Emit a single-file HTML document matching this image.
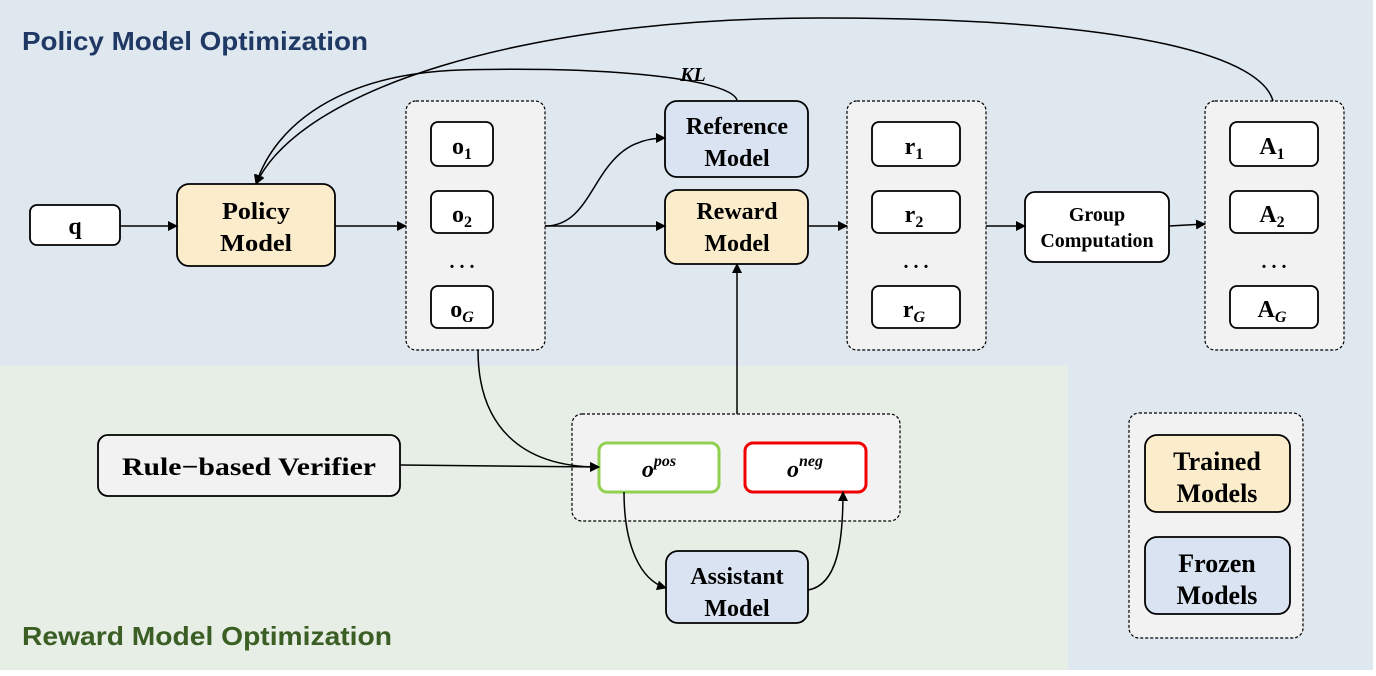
<!DOCTYPE html>
<html><head><meta charset="utf-8"><style>
html,body{margin:0;padding:0;background:#fff}
svg{display:block}
.t{font-family:"Liberation Serif",serif;font-weight:bold;fill:#000;text-anchor:middle}
</style></head><body>
<svg width="1376" height="676" viewBox="0 0 1376 676" xmlns="http://www.w3.org/2000/svg">
<defs>
<marker id="a" markerWidth="10" markerHeight="10" refX="9" refY="5" orient="auto" markerUnits="userSpaceOnUse"><path d="M0,0 L10,5 L0,10 z" fill="#000"/></marker>
</defs>
<rect x="0" y="0" width="1373" height="670" fill="#dfe7ef"/>
<rect x="0" y="366" width="1068" height="304" fill="#e6eee6"/>
<text x="22" y="50" font-family="Liberation Sans,sans-serif" font-weight="bold" font-size="26" fill="#1f3864" textLength="346" lengthAdjust="spacingAndGlyphs">Policy Model Optimization</text>
<text x="22" y="645" font-family="Liberation Sans,sans-serif" font-weight="bold" font-size="26" fill="#3b5e24" textLength="370" lengthAdjust="spacingAndGlyphs">Reward Model Optimization</text>

<g stroke="#000" stroke-width="1.2" stroke-dasharray="3,2" fill="#f2f2f2">
<rect x="406" y="101" width="139" height="249" rx="10"/>
<rect x="847" y="101" width="139" height="249" rx="10"/>
<rect x="1205" y="101" width="139" height="249" rx="10"/>
<rect x="572" y="414" width="328" height="107" rx="10"/>
<rect x="1129" y="413" width="174" height="225" rx="10"/>
</g>

<g stroke="#000" stroke-width="1.8">
<rect x="30" y="205" width="90" height="40" rx="7" fill="#fff"/>
<rect x="177" y="184" width="158" height="82" rx="12" fill="#fbeccb"/>
<rect x="431" y="122" width="62" height="44" rx="7" fill="#fff"/>
<rect x="431" y="191" width="62" height="42" rx="7" fill="#fff"/>
<rect x="431" y="286" width="62" height="42" rx="7" fill="#fff"/>
<rect x="665" y="101" width="143" height="76" rx="12" fill="#dae3f1"/>
<rect x="665" y="190" width="143" height="74" rx="12" fill="#fbeccb"/>
<rect x="872" y="122" width="88" height="44" rx="7" fill="#fff"/>
<rect x="872" y="191" width="88" height="42" rx="7" fill="#fff"/>
<rect x="872" y="286" width="88" height="42" rx="7" fill="#fff"/>
<rect x="1025" y="192" width="144" height="70" rx="10" fill="#fff"/>
<rect x="1230" y="122" width="88" height="44" rx="7" fill="#fff"/>
<rect x="1230" y="191" width="88" height="42" rx="7" fill="#fff"/>
<rect x="1230" y="286" width="88" height="42" rx="7" fill="#fff"/>
<rect x="98" y="435" width="302" height="61" rx="10" fill="#f2f2f2"/>
<rect x="666" y="551" width="142" height="72" rx="12" fill="#dae3f1"/>
<rect x="1145" y="435" width="145" height="77" rx="12" fill="#fbeccb"/>
<rect x="1145" y="537" width="145" height="77" rx="12" fill="#dae3f1"/>
</g>
<rect x="599" y="443" width="120" height="49" rx="8" fill="#fff" stroke="#92d050" stroke-width="3"/>
<rect x="745" y="443" width="121" height="49" rx="8" fill="#fff" stroke="#f00000" stroke-width="3"/>

<g stroke="#000" stroke-width="1.5" fill="none" marker-end="url(#a)">
<path d="M120,226 L177,226"/>
<path d="M335,226 L406,226"/>
<path d="M545,226 L665,226"/>
<path d="M545,226 C600,226 590,138 665,138"/>
<path d="M737,100 C730,80 620,66 460,70 C340,74 275,125 256,184"/>
<path d="M1273,101 C1262,60 1150,18 820,18 C520,18 300,90 256,184"/>
<path d="M808,226 L847,226"/>
<path d="M986,226 L1025,226"/>
<path d="M1169,226 L1205,224"/>
<path d="M478,350 C478,425 520,467 599,467"/>
<path d="M400,465 L599,467"/>
<path d="M737,414 L737,264"/>
<path d="M624,492 C624,545 640,580 666,588"/>
<path d="M808,590 C838,585 843,540 843,492"/>
</g>

<g class="t" font-size="24">
<text x="75" y="234">q</text>
<text x="256" y="219" textLength="68" lengthAdjust="spacingAndGlyphs">Policy</text><text x="256" y="251" textLength="72" lengthAdjust="spacingAndGlyphs">Model</text>
<text x="462" y="154">o<tspan font-size="16" dy="5">1</tspan></text>
<text x="462" y="222">o<tspan font-size="16" dy="5">2</tspan></text>
<text x="462" y="268" font-size="20">. . .</text>
<text x="462" y="317">o<tspan font-size="16" dy="5" font-style="italic">G</tspan></text>
<text x="737" y="134">Reference</text><text x="737" y="166">Model</text>
<text x="737" y="219">Reward</text><text x="737" y="251">Model</text>
<text x="693" y="81" font-style="italic" font-size="20">KL</text>
<text x="914" y="154">r<tspan font-size="16" dy="5">1</tspan></text>
<text x="914" y="222">r<tspan font-size="16" dy="5">2</tspan></text>
<text x="916" y="268" font-size="20">. . .</text>
<text x="914" y="317">r<tspan font-size="16" dy="5" font-style="italic">G</tspan></text>
<text x="1097" y="221" font-size="20">Group</text>
<text x="1097" y="247" font-size="20">Computation</text>
<text x="1272" y="154">A<tspan font-size="16" dy="5">1</tspan></text>
<text x="1272" y="222">A<tspan font-size="16" dy="5">2</tspan></text>
<text x="1274" y="268" font-size="20">. . .</text>
<text x="1272" y="317">A<tspan font-size="16" dy="5" font-style="italic">G</tspan></text>
<text x="249" y="475" font-size="25" textLength="254" lengthAdjust="spacingAndGlyphs">Rule−based Verifier</text>
<text x="659" y="477" font-style="italic">o<tspan font-size="16" dy="-11">pos</tspan></text>
<text x="805" y="477" font-style="italic">o<tspan font-size="16" dy="-11">neg</tspan></text>
<text x="737" y="584">Assistant</text><text x="737" y="616">Model</text>
<text x="1217" y="470" font-size="26">Trained</text><text x="1217" y="502" font-size="26">Models</text>
<text x="1217" y="572" font-size="26">Frozen</text><text x="1217" y="604" font-size="26">Models</text>
</g>
</svg>
</body></html>
